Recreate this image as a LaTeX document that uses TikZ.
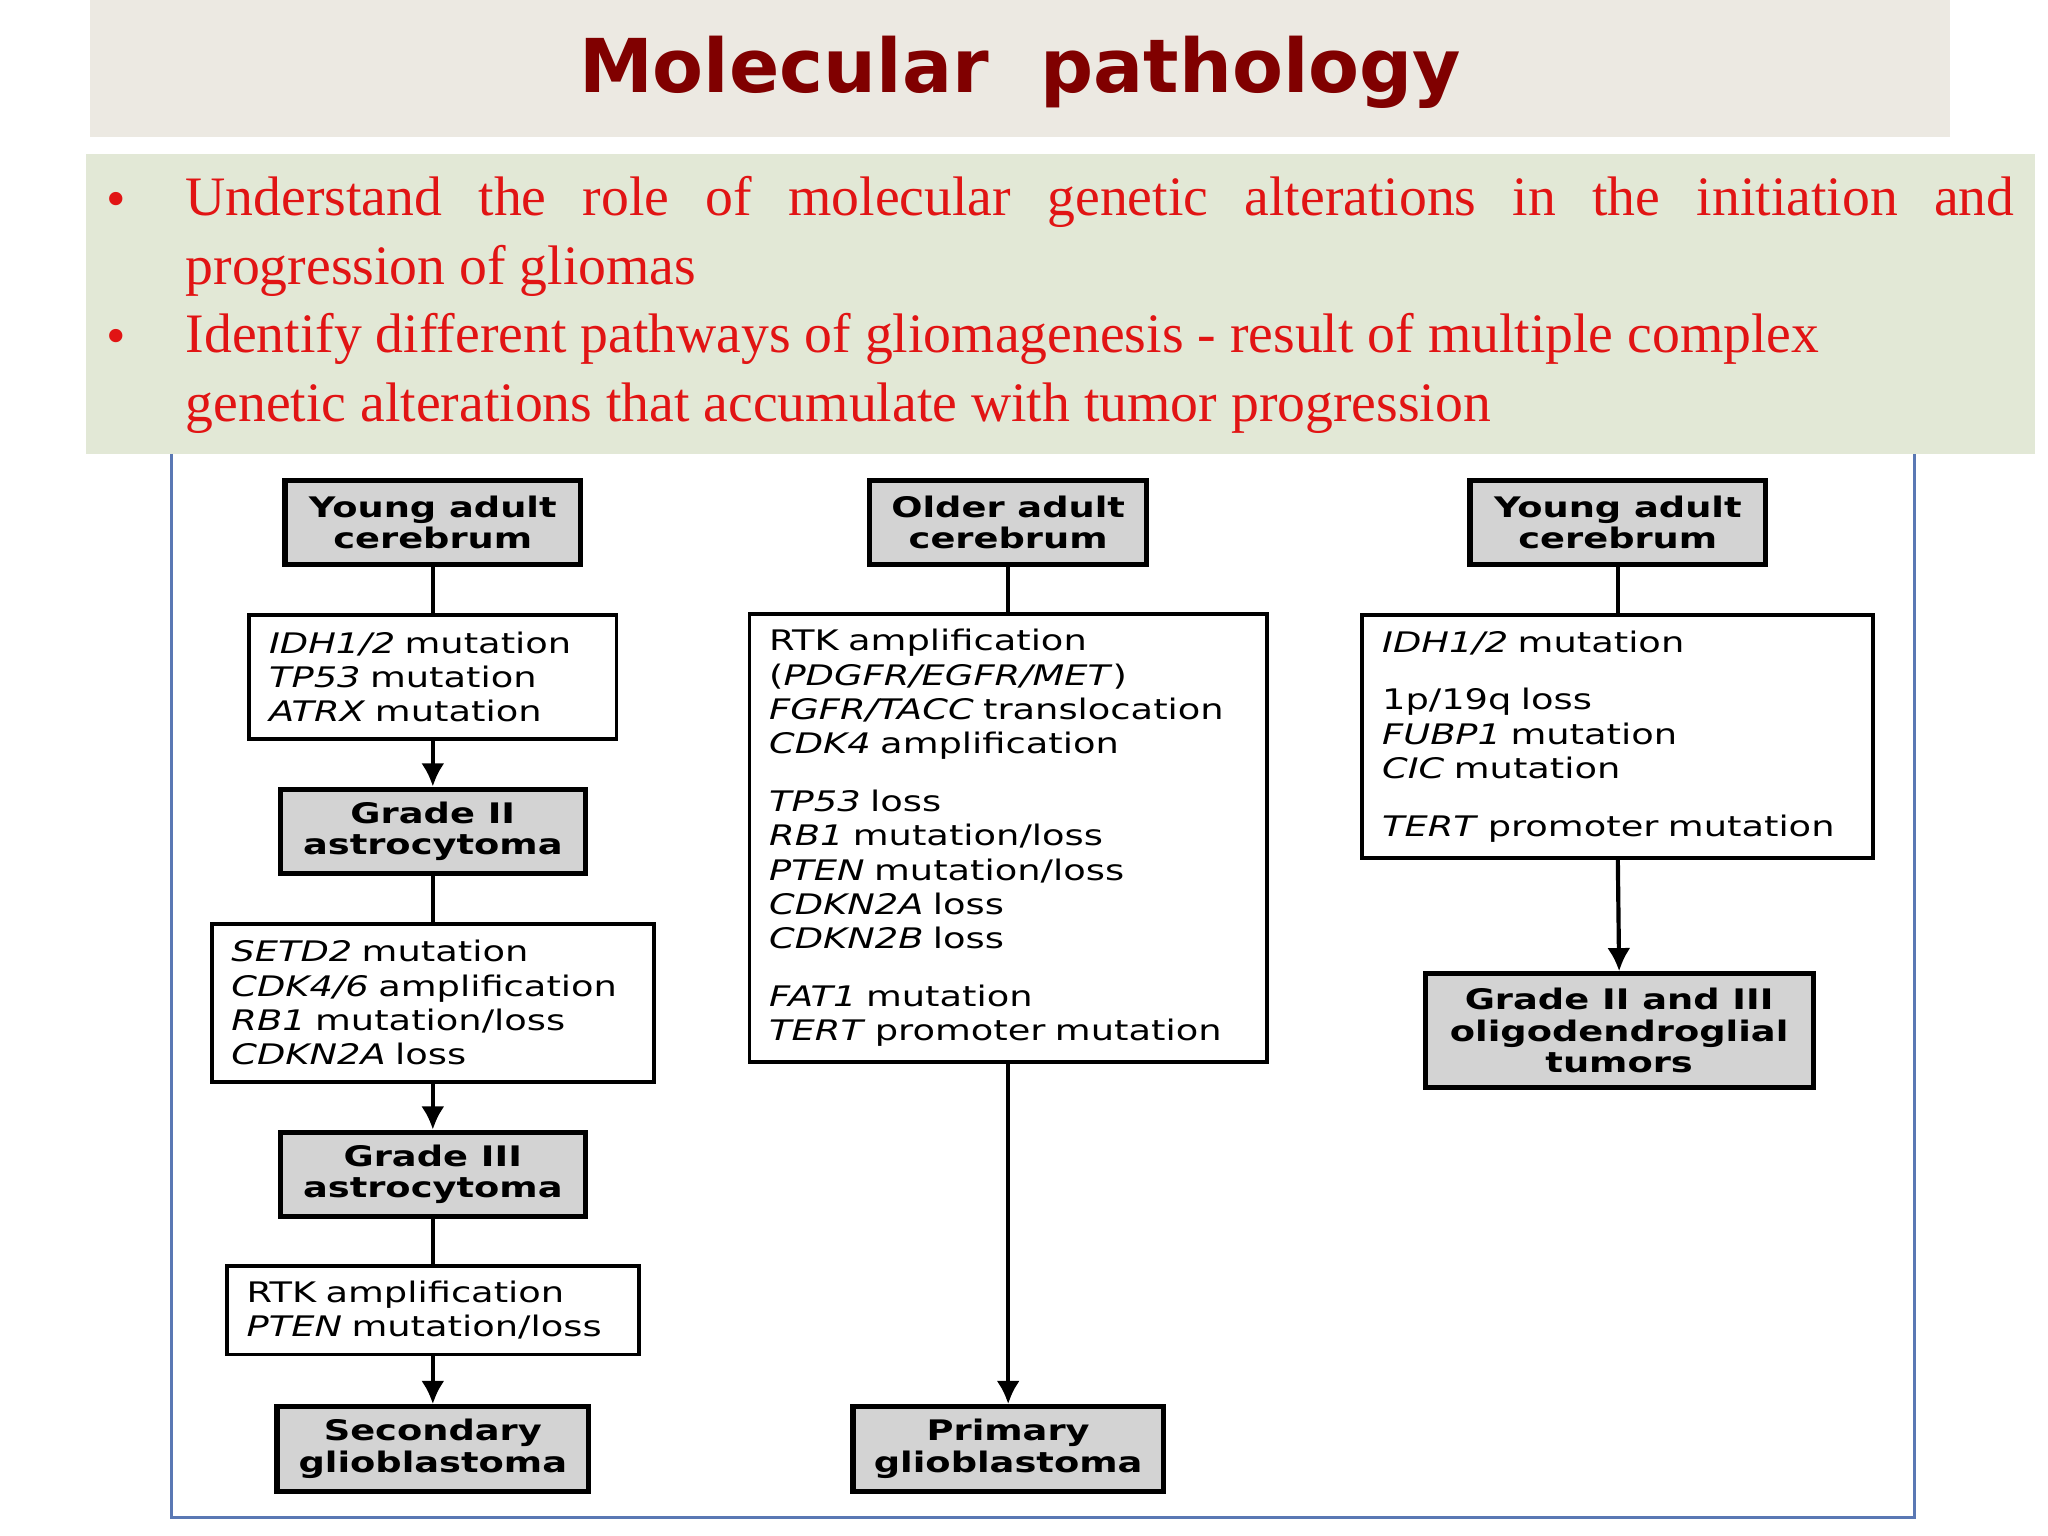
\documentclass[tikz,border=0pt]{standalone}
\usepackage{fontspec}
\setmainfont{Liberation Serif}
\newfontfamily\boxfont[FakeStretch=1.3]{DejaVu Sans}
\newfontfamily\titlefont{DejaVu Sans}
\usetikzlibrary{arrows.meta}
\definecolor{titlered}{RGB}{128,0,0}
\definecolor{bulletred}{RGB}{225,20,20}
\definecolor{titleband}{RGB}{236,233,226}
\definecolor{greenband}{RGB}{226,232,214}
\definecolor{framecol}{RGB}{90,120,180}
\definecolor{boxgray}{RGB}{211,211,211}
\begin{document}
\begin{tikzpicture}[x=0.01cm,y=-0.01cm,
  gbox/.style={draw=black,line width=1.1pt,fill=boxgray,align=center,inner sep=0pt,
    font=\boxfont\fontsize{6.1}{6.8}\selectfont\bfseries},
  tbox/.style={draw=black,line width=0.8pt,fill=white,align=left,inner xsep=0.15cm,inner ysep=0pt,
    font=\boxfont\fontsize{6.1}{7.4}\selectfont},
  link/.style={line width=0.9pt},
  arr/.style={line width=0.9pt,-{Latex[length=5pt,width=5pt]}},
  btext/.style={anchor=north west,inner sep=0pt,text=bulletred,align=left,
    font=\fontsize{12}{14.8}\selectfont}]
\useasboundingbox (0,0) rectangle (1552,1164);
% bands
\fill[titleband] (68,0) rectangle (1478,104);
\node[text=titlered,font=\titlefont\bfseries\fontsize{16}{20}\selectfont] (title) at (773,55) {Molecular\ \ pathology};
\fill[greenband] (65,117) rectangle (1542,344);
\node[text=bulletred,font=\fontsize{12}{14}\selectfont] (b1) at (88,155) {•};
\node[text=bulletred,font=\fontsize{12}{14}\selectfont] (b2) at (88,259) {•};
\node[btext] (t1) at (140,133) {\makebox[13.85cm][s]{Understand the role of molecular genetic alterations in the initiation and}\\progression of gliomas};
\node[btext] (t2) at (140,237) {Identify different pathways of gliomagenesis - result of multiple complex\\genetic alterations that accumulate with tumor progression};
% frame
\draw[framecol,line width=0.6pt] (130,344) -- (130,1150) -- (1451,1150) -- (1451,344);
% left column
\node[gbox,minimum width=2.24cm,minimum height=0.64cm] (ya1) at (328,396) {Young adult\\cerebrum};
\node[tbox,text width=2.48cm,minimum height=0.94cm] (l1) at (328,513) {\textit{IDH1/2} mutation\\\textit{TP53} mutation\\\textit{ATRX} mutation};
\node[gbox,minimum width=2.31cm,minimum height=0.64cm] (g2) at (328,630) {Grade II\\astrocytoma};
\node[tbox,text width=3.05cm,minimum height=1.20cm] (l2) at (328,760) {\textit{SETD2} mutation\\\textit{CDK4/6} amplification\\\textit{RB1} mutation/loss\\\textit{CDKN2A} loss};
\node[gbox,minimum width=2.31cm,minimum height=0.64cm] (g3) at (328,890) {Grade III\\astrocytoma};
\node[tbox,text width=2.82cm,minimum height=0.67cm] (l3) at (328,993) {RTK amplification\\\textit{PTEN} mutation/loss};
\node[gbox,minimum width=2.36cm,minimum height=0.64cm] (sg) at (328,1098) {Secondary\\glioblastoma};
\draw[link] (ya1) -- (l1);
\draw[arr] (l1) -- (g2);
\draw[link] (g2) -- (l2);
\draw[arr] (l2) -- (g3);
\draw[link] (g3) -- (l3);
\draw[arr] (l3) -- (sg);
% middle column
\node[gbox,minimum width=2.10cm,minimum height=0.64cm] (oa) at (764,396) {Older adult\\cerebrum};
\node[tbox,text width=3.62cm,minimum height=3.39cm] (m1) at (764,635) {RTK amplification\\(\textit{PDGFR/EGFR/MET})\\\textit{FGFR/TACC} translocation\\\textit{CDK4} amplification\\[5pt]\textit{TP53} loss\\\textit{RB1} mutation/loss\\\textit{PTEN} mutation/loss\\\textit{CDKN2A} loss\\\textit{CDKN2B} loss\\[5pt]\textit{FAT1} mutation\\\textit{TERT} promoter mutation};
\node[gbox,minimum width=2.35cm,minimum height=0.64cm] (pg) at (764,1098) {Primary\\glioblastoma};
\draw[link] (oa) -- (m1);
\draw[arr] (m1) -- (pg);
% right column
\node[gbox,minimum width=2.24cm,minimum height=0.64cm] (ya2) at (1226,396) {Young adult\\cerebrum};
\node[tbox,text width=3.57cm,minimum height=1.84cm] (r1) at (1226,558) {\textit{IDH1/2} mutation\\[5pt]1p/19q loss\\\textit{FUBP1} mutation\\\textit{CIC} mutation\\[5pt]\textit{TERT} promoter mutation};
\node[gbox,minimum width=2.94cm,minimum height=0.86cm] (g23) at (1227,781) {Grade II and III\\oligodendroglial\\tumors};
\draw[link] (ya2) -- (r1);
\draw[arr] (r1.south) -- (g23.north);
\end{tikzpicture}
\end{document}
